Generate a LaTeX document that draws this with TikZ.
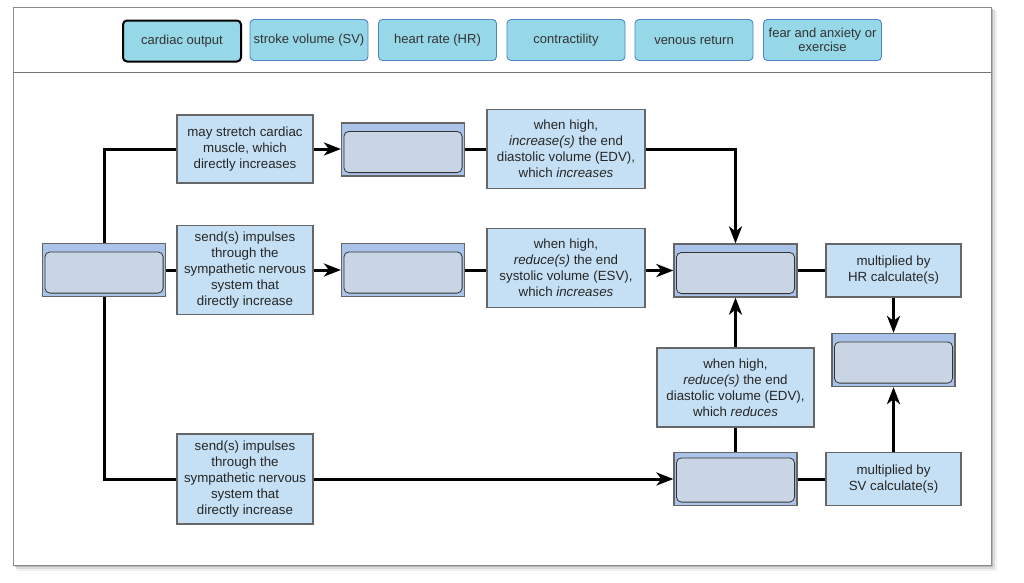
\documentclass[tikz,border=0pt]{standalone}
\usepackage{fontspec}
\setmainfont{Liberation Sans}
\usetikzlibrary{arrows.meta}
\definecolor{tbox}{HTML}{C5E0F4}
\definecolor{bout}{HTML}{A9C4E8}
\definecolor{bin}{HTML}{C9D5E4}
\definecolor{btnf}{HTML}{96D7E8}
\definecolor{btnb}{HTML}{4F86C6}
\newcommand\blankbox[4]{%
  \node[blankout, minimum width=123pt, minimum height=53pt] (#1) at (#2,#3) {};
  \draw[blankin] ([xshift=3pt,yshift=-#4pt]#1.north west) rectangle ([xshift=-3pt,yshift=4pt]#1.south east);}
\begin{document}
\begin{tikzpicture}[x=1pt,y=-1pt,
  txt/.style={draw=black!60, line width=1.2pt, fill=tbox, align=center, inner sep=0pt, font=\fontsize{13.3}{16}\selectfont, text=black!85},
  blankout/.style={draw=black!60, line width=1.2pt, fill=bout, inner sep=0pt},
  blankin/.style={draw=black!80, line width=0.8pt, fill=bin, rounded corners=5pt},
  btn/.style={draw=btnb, line width=0.9pt, fill=btnf, rounded corners=4pt, align=center, inner sep=0pt, font=\fontsize{13}{14}\selectfont, text=black!80, minimum width=118pt, minimum height=41pt},
  conn/.style={line width=3pt, black},
  arr/.style={conn, -{Stealth[length=17pt,width=13pt,inset=5pt]}}
]
\useasboundingbox (0,0) rectangle (1024,582);
% frame with shadow
\fill[black!6] (17,11) rectangle (997,571);
\fill[black!14] (16,10) rectangle (995,569);
\fill[black!28] (15,9) rectangle (993,567);
\filldraw[fill=white, draw=black!45, line width=1pt] (13,7) rectangle (991,565);
\draw[black!55, line width=1pt] (13,72) -- (991,72);

% top buttons
\node[btn, draw=black, line width=2pt] (b1) at (182,41) {cardiac output};
\node[btn] (b2) at (309,40) {stroke volume (SV)};
\node[btn] (b3) at (437.5,40) {heart rate (HR)};
\node[btn] (b4) at (566,40) {contractility};
\node[btn] (b5) at (694,40) {venous return};
\node[btn] (b6) at (822.5,40) {fear and anxiety or\\exercise};

% text boxes
\node[txt, minimum width=136pt, minimum height=68pt] (T1) at (245,149) {may stretch cardiac\\muscle, which\\directly increases};
\node[txt, minimum width=136pt, minimum height=89pt] (T2) at (245,270) {send(s) impulses\\through the\\sympathetic nervous\\system that\\directly increase};
\node[txt, minimum width=136pt, minimum height=90pt] (T3) at (245,479) {send(s) impulses\\through the\\sympathetic nervous\\system that\\directly increase};
\node[txt, minimum width=158pt, minimum height=79pt] (T4) at (566,149) {when high,\\\textit{increase(s)} the end\\diastolic volume (EDV),\\which \textit{increases}};
\node[txt, minimum width=158pt, minimum height=79pt] (T5) at (566,268) {when high,\\\textit{reduce(s)} the end\\systolic volume (ESV),\\which \textit{increases}};
\node[txt, minimum width=135pt, minimum height=53pt] (T6) at (893.5,270.5) {multiplied by\\HR calculate(s)};
\node[txt, minimum width=157pt, minimum height=79pt] (T7) at (735.5,387.5) {when high,\\\textit{reduce(s)} the end\\diastolic volume (EDV),\\which \textit{reduces}};
\node[txt, minimum width=135pt, minimum height=53pt] (T8) at (893.5,479) {multiplied by\\SV calculate(s)};

% blank boxes
\blankbox{L}{104}{270}{9}
\blankbox{B1}{403}{149.5}{9}
\blankbox{B2}{403}{270}{9}
\blankbox{B3}{735.5}{270.5}{9}
\blankbox{B4}{893.5}{360}{9}
\blankbox{B5}{735.5}{479}{6}

% connectors
\draw[conn] (L.north) |- (T1.west);
\draw[arr] (T1.east) -- (T1.east -| B1.west);
\draw[conn] (B1.east) -- (B1.east -| T4.west);
\draw[arr] (T4.east) -| (B3.north);
\draw[conn] (L.east) -- (T2.west);
\draw[arr] (T2.east) -- (B2.west);
\draw[conn] (B2.east) -- (B2.east -| T5.west);
\draw[arr] (T5.east |- B3.west) -- (B3.west);
\draw[conn] (L.south) |- (T3.west);
\draw[arr] (T3.east) -- (T3.east -| B5.west);
\draw[conn] (B5.north) -- (T7.south);
\draw[arr] (T7.north) -- (B3.south);
\draw[conn] (B3.east) -- (B3.east -| T6.west);
\draw[arr] (T6.south) -- (B4.north);
\draw[conn] (B5.east) -- (T8.west);
\draw[arr] (T8.north) -- (B4.south);
\end{tikzpicture}
\end{document}
